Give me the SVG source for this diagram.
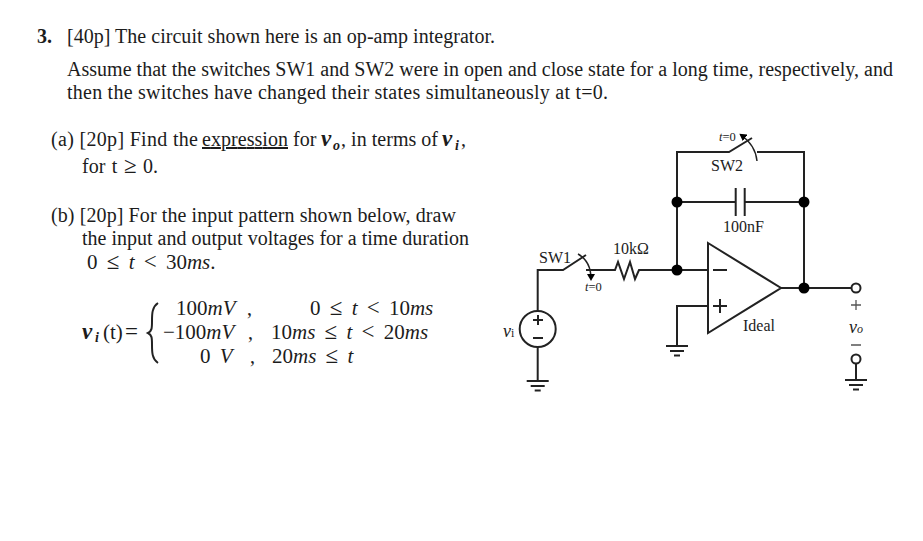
<svg xmlns="http://www.w3.org/2000/svg" width="923" height="541" viewBox="0 0 923 541">
<style>
.t{font-family:"Liberation Serif",serif;font-size:20px;fill:#1c1c1c}
.q{font-size:21px;word-spacing:4px}
.r{font-size:23px}
.s{font-size:16px}
.z{font-size:12.500px}
.m{font-style:italic}
.b{font-style:italic;font-weight:bold;font-size:23px}
.sub{font-size:14px;font-style:italic;font-weight:bold}
.w{fill:none;stroke:#222;stroke-width:2}
.n{fill:#000}
.o{fill:#fff;stroke:#222;stroke-width:2}
</style>
<defs>
<g id="gnd"><path class="w" d="M-11 0H11M-7 5H7M-3 9.500H3"/></g>
<marker id="ah" markerUnits="userSpaceOnUse" markerWidth="8" markerHeight="8" refX="5" refY="4" orient="auto"><path d="M0 0L7 4L0 8Z" fill="#000"/></marker>
</defs>
<rect width="923" height="541" fill="#fff"/>
<g id="text">
<text class="t" x="37" y="43" font-weight="bold">3.</text>
<text class="t" x="67" y="43" textLength="428">[40p] The circuit shown here is an op-amp integrator.</text>
<text class="t" x="67" y="76" textLength="826">Assume that the switches SW1 and SW2 were in open and close state for a long time, respectively, and</text>
<text class="t" x="67" y="99" textLength="541">then the switches have changed their states simultaneously at t=0.</text>
<text class="t" x="51" y="146" textLength="147">(a) [20p] Find the</text>
<text class="t" x="202" y="146" text-decoration="underline" textLength="86">expression</text>
<text class="t" x="293" y="146">for</text>
<text class="t b" x="321" y="146">v</text>
<text class="t sub" x="333" y="150">o</text>
<text class="t" x="341" y="146" textLength="97">, in terms of</text>
<text class="t b" x="442" y="146">v</text>
<text class="t sub" x="455" y="150">i</text>
<text class="t" x="461" y="146">,</text>
<text class="t" x="82" y="173" style="word-spacing:1.500px">for t <tspan class="r">≥</tspan> 0.</text>
<text class="t" x="51" y="222" textLength="405">(b) [20p] For the input pattern shown below, draw</text>
<text class="t" x="82" y="245" textLength="387">the input and output voltages for a time duration</text>
<text class="t q" x="87" y="269">0 <tspan class="r">≤</tspan> <tspan class="m">t</tspan> <tspan class="r">&lt;</tspan> 30<tspan class="m">ms</tspan>.</text>
<text class="t b" x="82" y="339">v</text>
<text class="t sub" x="95" y="342">i</text>
<text class="t q" x="103" y="339">(t)</text>
<text class="t r" x="125" y="339">=</text>
<path d="M158 303C152 307 152 314 152 321C152 328 152 331 148 333C152 335 152 338 152 345C152 352 152 359 158 363" fill="none" stroke="#222" stroke-width="2"/>
<text class="t q" x="176" y="315">100<tspan class="m">mV</tspan></text>
<text class="t" x="247" y="315">,</text>
<text class="t q" x="310" y="315">0 <tspan class="r">≤</tspan> <tspan class="m">t</tspan> <tspan class="r">&lt;</tspan> 10<tspan class="m">ms</tspan></text>
<text class="t q" x="163" y="339">−100<tspan class="m">mV</tspan></text>
<text class="t" x="248" y="339">,</text>
<text class="t q" x="271" y="339">10<tspan class="m">ms</tspan> <tspan class="r">≤</tspan> <tspan class="m">t</tspan> <tspan class="r">&lt;</tspan> 20<tspan class="m">ms</tspan></text>
<text class="t q" x="200" y="363">0 <tspan class="m">V</tspan></text>
<text class="t" x="250" y="363">,</text>
<text class="t q" x="272" y="363">20<tspan class="m">ms</tspan> <tspan class="r">≤</tspan> <tspan class="m">t</tspan></text>
</g>
<g id="connectors">
<path class="w" d="M537.700 311V270H563L586 255"/>
<path class="w" d="M586 270H615L618 262L624 279L630 262L635 279L639 270H677"/>
<path d="M578 254C587 259 591 267 591 279" fill="none" stroke="#222" stroke-width="1.500" marker-end="url(#ah)"/>
<path class="w" d="M537.700 347V381"/>
<path class="w" d="M677 270V152H729L752 138"/>
<path class="w" d="M757 152H804V288"/>
<path d="M757 161C756 151 751 142 741 135" fill="none" stroke="#222" stroke-width="1.500" marker-end="url(#ah)"/>
<path class="w" d="M677 202H735.500M744.500 202H804"/>
<path class="w" d="M677 270H708M781 288H851M708 306H677V346M856 364V380"/>
</g>
<g id="V_i">
<circle cx="537.700" cy="329" r="18" class="o"/>
<path class="w" d="M533 320H543M538 315V325M533 338H543"/>
<text class="t m" x="503" y="337" style="font-size:18px" fill="#1b2a6b">v<tspan style="font-size:12px;font-style:normal">i</tspan></text>
<use href="#gnd" x="537.700" y="381"/>
</g>
<g id="SW1"><text class="t s" x="539" y="263">SW1</text><text class="t z" x="585" y="291"><tspan class="m">t</tspan>=0</text></g>
<g id="R1"><text class="t s" x="613" y="254">10kΩ</text></g>
<g id="SW2"><text class="t s" x="711" y="171">SW2</text><text class="t z" x="719" y="141"><tspan class="m">t</tspan>=0</text></g>
<g id="C1">
<path class="w" d="M735.700 188V216M744.700 188V216"/>
<text class="t s" x="723" y="232">100nF</text>
</g>
<g id="opamp">
<path class="o" d="M708 243L781 288L708 333Z"/>
<path class="w" d="M713 270H727M713 306H727M720 299V313"/>
<text class="t s" x="743" y="331">Ideal</text>
</g>
<g id="junctions">
<circle class="n" cx="677" cy="202" r="5.500"/>
<circle class="n" cx="677" cy="270" r="5.500"/>
<circle class="n" cx="804" cy="202" r="5.500"/>
<circle class="n" cx="804" cy="288" r="5.500"/>
</g>
<g id="G2"><use href="#gnd" x="677" y="346"/></g>
<g id="Vo">
<circle class="o" cx="856" cy="288" r="4.500"/>
<circle class="o" cx="856" cy="359" r="4.500"/>
<path d="M851 305H861M856 300V310M851 345H861" stroke="#555" stroke-width="1.300" fill="none"/>
<text class="t m" x="849" y="333" style="font-size:18px" fill="#1b2a6b">v<tspan style="font-size:12px">o</tspan></text>
<use href="#gnd" x="856" y="380"/>
</g>
</svg>
